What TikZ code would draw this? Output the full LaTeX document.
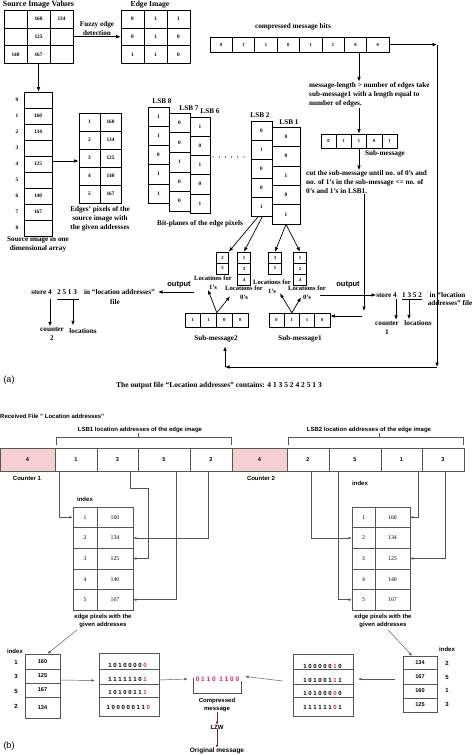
\documentclass[tikz,border=0pt]{standalone}
\usepackage{fontspec}
\setmainfont{Liberation Serif}
\setsansfont{Liberation Sans}
\usetikzlibrary{arrows.meta}
\definecolor{pinkc}{RGB}{246,208,208}
\definecolor{redd}{RGB}{226,32,84}
\definecolor{lineg}{RGB}{85,85,85}
\definecolor{darr}{RGB}{120,30,40}
\newcommand\fA{\fontsize{7.2}{9}\selectfont\bfseries}
\newcommand\fAL{\fontsize{6.6}{8.6}\selectfont\bfseries}
\newcommand\fAc{\fontsize{5.3}{6}\selectfont\bfseries}
\newcommand\fAs{\fontsize{4.6}{5}\selectfont\bfseries}
\newcommand\fB{\fontsize{6}{7.6}\selectfont\sffamily\bfseries}
\newcommand\fBs{\fontsize{5.6}{6}\selectfont\sffamily\bfseries}
\newcommand\fBr{\fontsize{5.8}{6.5}\selectfont}
\newcommand\rd[1]{\textcolor{redd}{#1}}
\begin{document}
\begin{tikzpicture}[x=1pt,y=-1pt,
 acell/.style={draw, line width=0.6pt, fill=white, inner sep=0pt, font=\fAc},
 txt/.style={inner sep=0pt, align=center, font=\fA},
 arr/.style={-{Latex[length=4.5pt,width=3.6pt]}, line width=0.7pt},
 bcell/.style={draw=lineg, line width=0.5pt, inner sep=0pt, font=\fBs},
 btxt/.style={inner sep=0pt, align=center, font=\fB},
 arrb/.style={-{Latex[length=3.2pt,width=2.6pt]}, line width=0.45pt, draw=lineg},
 arrr/.style={-{Latex[length=3pt,width=2.6pt]}, line width=0.6pt, draw=darr},
]
\fill[white] (0,0) rectangle (474,755);
\useasboundingbox (0,0) rectangle (474,755);

% ================= PART (a) =================
\node[txt, font=\fontsize{8}{9}\selectfont\bfseries] (srcT) at (38.5,5) {Source Image Values};
\node[txt, font=\fontsize{7.6}{9}\selectfont\bfseries] (edgT) at (150,5) {Edge Image};
\foreach \v [count=\i from 0] in {{},160,134,{},125,{},140,167,{}} {
  \node[acell, minimum width=23pt, minimum height=17.7pt] (src-\i) at ({15.5+23*mod(\i,3)},{19+17.7*floor(\i/3)}) {\v};
}
\foreach \v [count=\i from 0] in {0,1,1,0,1,0,1,1,0} {
  \node[acell, minimum width=23pt, minimum height=17.7pt] (edg-\i) at ({132.5+23*mod(\i,3)},{19+17.7*floor(\i/3)}) {\v};
}
\node[txt] (fuzzy) at (97,29) {Fuzzy edge\\detection};
\draw[arr] (src-5.east) -- (edg-3.west);

% one dimensional array
\foreach \v [count=\i from 0] in {{},160,134,{},125,{},140,167,{}} {
  \node[acell, minimum width=28pt, minimum height=16pt] (arr-\i) at (38,{100+16*\i}) {\v};
  \node[txt, font=\fAc] (idx-\i) at (17,{100+16*\i}) {\i};
}
\draw[arr] (src-7.south) -- (src-7.south |- arr-0.north);
\node[txt] (arrCap) at (38,244.5) {Source image in one\\dimensional array};

% edges table
\foreach \a/\b [count=\i] in {1/160,2/134,3/125,4/140,5/167} {
  \node[acell, minimum width=21pt, minimum height=18pt] (el-\i) at (89.5,{104+18*\i}) {\a};
  \node[acell, minimum width=21pt, minimum height=18pt] (ev-\i) at (110.5,{104+18*\i}) {\b};
}
\draw[arr] ([yshift=3]arr-4.east) -- ([yshift=3]arr-4.east -| el-3.west);
\node[txt] (eCap) at (100,219) {Edges' pixels of the\\source image with\\the given addresses};

% bit planes
\foreach \v [count=\i] in {1,1,0,1,1}
  \node[acell, minimum width=21pt, minimum height=19.2pt] (l8-\i) at (158.5,{97.4+19.2*\i}) {\v};
\foreach \v [count=\i] in {0,0,1,0,0}
  \node[acell, minimum width=21pt, minimum height=19.6pt] (l7-\i) at (179.5,{103.2+19.6*\i}) {\v};
\foreach \v [count=\i] in {1,0,1,0,1}
  \node[acell, minimum width=20pt, minimum height=19.2pt] (l6-\i) at (200,{107.4+19.2*\i}) {\v};
\foreach \v [count=\i] in {0,1,0,0,1}
  \node[acell, minimum width=21pt, minimum height=19pt] (l2-\i) at (261.5,{111.5+19*\i}) {\v};
\foreach \v [count=\i] in {0,0,1,0,1}
  \node[acell, minimum width=28pt, minimum height=19.4pt] (l1-\i) at (286,{117.3+19.4*\i}) {\v};
\node[txt] (lsb8) at (162,101) {LSB 8};
\node[txt] (lsb7) at (189,108) {LSB 7};
\node[txt] (lsb6) at (210,111) {LSB 6};
\node[txt] (lsb2) at (260,115) {LSB 2};
\node[txt] (lsb1) at (289,122.5) {LSB 1};
\coordinate (dotsL) at (213,157);
\coordinate (dotsR) at (250,157);
\draw[line width=1.3pt, dash pattern=on 0pt off 6.2pt, line cap=round] (dotsL) -- (dotsR);
\node[txt] (bpCap) at (200,224) {Bit-planes of the edge pixels};

% compressed bits
\node[txt] (cmpT) at (293,27) {compressed message bits};
\foreach \v [count=\i] in {0,1,1,0,1,1,0,0}
  \node[acell, font=\fAs, minimum width=22.375pt, minimum height=15pt] (cb-\i) at ({210+22.375*(\i-0.5)},44.5) {\v};
\foreach \v [count=\i] in {0,1,1,0,1}
  \node[acell, font=\fAs, minimum width=15.2pt, minimum height=14pt] (sub-\i) at ({321+15.2*(\i-0.5)},141) {\v};
\node[txt, anchor=west, align=left] (msg1) at (309,95) {message-length > number of edges take\\sub-message1 with a length equal to\\number of edges.};
\draw[arr] (cb-7.south -| sub-3) -- ([yshift=1]msg1.north -| sub-3);
\draw[arr] (msg1.south -| sub-3) -- (sub-3.north);
\node[txt] (subL) at (385,154) {Sub-message};
\node[txt, anchor=west, align=left] (cut) at (306,182) {cut the sub-message until no. of 0's and\\no. of 1's in the sub-message <= no. of\\0's and 1's in LSB1.};
\draw[arr] (sub-3.south) -- (cut.north -| sub-3);

% sub-messages
\foreach \v [count=\i] in {0,1,1,0}
  \node[acell, font=\fAs, minimum width=15.25pt, minimum height=14pt] (sm1-\i) at ({269+15.25*(\i-0.5)},320) {\v};
\foreach \v [count=\i] in {1,1,0,0}
  \node[acell, font=\fAs, minimum width=15.75pt, minimum height=14pt] (sm2-\i) at ({185+15.75*(\i-0.5)},320) {\v};
\node[txt] (sm1L) at (300,339) {Sub-message1};
\node[txt] (sm2L) at (216,339) {Sub-message2};
\coordinate (cutV) at (364,311);
\coordinate (cutH) at (362,316);
\draw[arr] (cut.south -| cutV) -- (cutV);
\draw[arr] (cutH) -- (cutH -| sm1-4.east);

% big loop
\coordinate (TR) at (437,44.5);
\coordinate (BR) at (437,367);
\coordinate (BL) at (225,367);
\draw[arr] (cb-8.east) -- (TR);
\draw[arr] (TR) -- (BR);
\draw[arr] (BR) -- (BL);
\draw[arr] (BL) -- ([yshift=-4]BL |- sm2L.south);

% small location boxes
\foreach \v [count=\i] in {2,5}
  \node[acell, font=\fAs, minimum width=12pt, minimum height=11pt] (a1-\i) at (222.5,{246.5+11*\i}) {\v};
\foreach \v [count=\i] in {1,3,4}
  \node[acell, font=\fAs, minimum width=13pt, minimum height=11pt] (a0-\i) at (244,{246.5+11*\i}) {\v};
\foreach \v [count=\i] in {3,5}
  \node[acell, font=\fAs, minimum width=13pt, minimum height=11pt] (b1-\i) at (275,{246.5+11*\i}) {\v};
\foreach \v [count=\i] in {1,2,4}
  \node[acell, font=\fAs, minimum width=13pt, minimum height=11pt] (b0-\i) at (300,{246.5+11*\i}) {\v};
\draw[arr] ([xshift=-3]l2-5.south) -- (a1-1.north east);
\draw[arr] ([xshift=1]l2-5.south) -- (a0-1.north);
\draw[arr] (l1-5.south) -- (b1-1.north);
\draw[arr] (l1-5.south) -- (b0-1.north);
\node[txt, font=\fAL] (L1a) at (213,283) {Locations for\\1's};
\node[txt, font=\fAL] (L0a) at (244,292.5) {Locations for\\0's};
\node[txt, font=\fAL] (L1b) at (272,286.5) {Locations for\\1's};
\node[txt, font=\fAL] (L0b) at (307,292.5) {Locations for\\0's};
\draw[arr] (sm2-2.north east) -- ([xshift=-5]L1a.south);
\draw[arr] (sm2-2.north east) -- ([xshift=-14,yshift=3]L0a.south);
\draw[arr] (sm1-2.north) -- ([xshift=8]L1b.south);
\draw[arr] (sm1-2.north) -- ([xshift=-6,yshift=2]L0b.south);

% output / store left
\node[txt, font=\fontsize{7.5}{9}\selectfont\sffamily\bfseries] (outL) at (179,285) {output};
\node[txt] (st4L) at (41.5,292) {store 4};
\node[txt] (locL) at (67,292) {2 5 1 3};
\node[txt] (inL) at (119.5,292) {in ``location addresses''};
\node[txt] (fileL) at (115,302) {file};
\draw[arr] (L1a.west |- inL.east) -- ([xshift=3]inL.east);
\coordinate (brL1) at (57,299);
\coordinate (brL2) at (79,299);
\coordinate (brL3) at (73,299);
\coordinate (st4Ld) at (50,299);
\draw[line width=0.7pt] (brL1) -- (brL2);
\node[txt] (cntL) at (52,334) {counter\\2};
\node[txt] (locsL) at (83,331) {locations};
\draw[arr] (st4Ld) -- ([yshift=1]st4Ld |- cntL.north);
\draw[arr] (brL3) -- ([yshift=3]brL3 |- locsL.north);

% output / store right
\node[txt, font=\fontsize{7.5}{9}\selectfont\sffamily\bfseries] (outR) at (348,285) {output};
\node[txt] (st4R) at (386.5,295) {store 4};
\node[txt] (locR) at (412,295) {1 3 5 2};
\node[txt] (inR) at (447.5,295) {in ``location};
\node[txt] (adR) at (450,303) {addresses'' file};
\draw[arr] ([xshift=-6]L0b.east |- st4R.west) -- (st4R.west);
\coordinate (brR1) at (402,299);
\coordinate (brR2) at (422,299);
\coordinate (brR3) at (409,299);
\coordinate (st4Rd) at (396,299);
\draw[line width=0.7pt] (brR1) -- (brR2);
\node[txt] (cntR) at (387,327.5) {counter\\1};
\node[txt] (locsR) at (418,323) {locations};
\draw[arr] (st4Rd) -- ([yshift=1]st4Rd |- cntR.north);
\draw[arr] (brR3) -- ([yshift=1]brR3 |- locsR.north);

\node[inner sep=0pt, font=\fontsize{9}{10}\selectfont\sffamily] (lblA) at (9,380) {(a)};
\node[txt, font=\fontsize{7.5}{9}\selectfont\bfseries] (outF) at (219,386) {The output file ``Location addresses'' contains: 4 1 3 5 2 4 2 5 1 3};

% ================= PART (b) =================
\node[btxt, anchor=west] (recv) at (0,416) {Received File " Location addresses"};
\node[btxt] (b1L) at (140,430) {LSB1 location addresses of the edge image};
\node[btxt] (b2L) at (369,430) {LSB2 location addresses of the edge image};
\draw[lineg, line width=0.5pt] (56,445) -- (56,437) -- (231,437) -- (231,445);
\draw[lineg, line width=0.5pt] (138,437) -- (138,432.5);
\draw[lineg, line width=0.5pt] (288,445) -- (288,437) -- (463,437) -- (463,445);
\draw[lineg, line width=0.5pt] (379,437) -- (379,432.5);

\node[bcell, fill=pinkc, minimum width=55pt, minimum height=23pt] (p1) at (27.5,459.5) {4};
\node[bcell, minimum width=42pt, minimum height=23pt] (c1) at (76,459.5) {1};
\node[bcell, minimum width=41pt, minimum height=23pt] (c2) at (117.5,459.5) {3};
\node[bcell, minimum width=52pt, minimum height=23pt] (c3) at (164,459.5) {5};
\node[bcell, minimum width=42pt, minimum height=23pt] (c4) at (211,459.5) {2};
\node[bcell, fill=pinkc, minimum width=55pt, minimum height=23pt] (p2) at (259.5,459.5) {4};
\node[bcell, minimum width=42pt, minimum height=23pt] (d1) at (308,459.5) {2};
\node[bcell, minimum width=52pt, minimum height=23pt] (d2) at (355,459.5) {5};
\node[bcell, minimum width=41pt, minimum height=23pt] (d3) at (401.5,459.5) {1};
\node[bcell, minimum width=42pt, minimum height=23pt] (d4) at (443,459.5) {3};
\node[btxt] (cnt1) at (27,478) {Counter 1};
\node[btxt] (cnt2) at (261,478) {Counter 2};
\node[btxt] (ixL) at (85,499) {index};
\node[btxt] (ixR) at (360,483) {index};

\foreach \a/\b [count=\i] in {1/160,2/134,3/125,4/140,5/167} {
  \node[bcell, font=\fBr, minimum width=24pt, minimum height=20.6pt] (lti-\i) at (85,{496.7+20.6*\i}) {\a};
  \node[bcell, font=\fBr, minimum width=36pt, minimum height=20.6pt] (ltv-\i) at (115,{496.7+20.6*\i}) {\b};
  \node[bcell, font=\fBr, minimum width=23pt, minimum height=20.6pt] (rti-\i) at (363.5,{496.7+20.6*\i}) {\a};
  \node[bcell, font=\fBr, minimum width=35pt, minimum height=20.6pt] (rtv-\i) at (392.5,{496.7+20.6*\i}) {\b};
}
\draw[arrb] ([xshift=-17]c1.south) |- (lti-1.west);
\draw[arrb] ([xshift=12.5]c2.south) |- (148,488) |- (ltv-3.east);
\draw[arrb] ([xshift=12]c3.south) |- (ltv-5.east);
\draw[arrb] ([xshift=-3]c4.south) |- (ltv-2.east);
\draw[arrb] ([xshift=3]d1.south) |- (rti-2.west);
\draw[arrb] ([xshift=-17]d2.south) |- (rti-5.west);
\draw[arrb] ([xshift=16.5]d3.south) |- (rtv-1.east);
\draw[arrb] ([xshift=2]d4.south) |- (rtv-3.east);
\node[btxt] (capL) at (103,621) {edge pixels with the\\given addresses};
\node[btxt] (capR) at (383,621) {edge pixels with the\\given addresses};

% bottom-left small table
\node[btxt] (ixB) at (15,651) {index};
\node[bcell, minimum width=35pt, minimum height=15pt] (blt-1) at (42.5,661.5) {160};
\node[bcell, minimum width=35pt, minimum height=14pt] (blt-2) at (42.5,676) {125};
\node[bcell, minimum width=35pt, minimum height=14pt] (blt-3) at (42.5,690) {167};
\node[bcell, minimum width=35pt, minimum height=21pt] (blt-4) at (42.5,707.5) {134};
\node[btxt] (bi-1) at (16,662) {1};
\node[btxt] (bi-2) at (16,676) {3};
\node[btxt] (bi-3) at (16,691) {5};
\node[btxt] (bi-4) at (16,706) {2};
\draw[arrb] ([xshift=-26,yshift=-2]capL.south) -- ([xshift=5]blt-1.north);

% bottom middle-left table
\node[bcell, minimum width=60pt, minimum height=16pt] (bmt-1) at (129,661) {};
\node[bcell, minimum width=60pt, minimum height=15pt] (bmt-2) at (129,676.5) {};
\node[bcell, minimum width=60pt, minimum height=13pt] (bmt-3) at (129,690.5) {};
\node[bcell, minimum width=60pt, minimum height=19pt] (bmt-4) at (129,706.5) {};
\node[btxt] (bmtt-1) at (127.5,665.5) {1 0 1 0 0 0 0 \rd{0}};
\node[btxt] (bmtt-2) at (127.5,679.5) {1 1 1 1 1 1 0 \rd{1}};
\node[btxt] (bmtt-3) at (127.5,692.5) {1 0 1 0 0 1 1 \rd{1}};
\node[btxt] (bmtt-4) at (128.3,707) {1 0 0 0 0 0 1 1 \rd{0}};
\draw[arrb] ([yshift=-4]blt-2.east) -- ([xshift=-4,yshift=-4]bmt-2.west);

% compressed message
\node[btxt, text=redd, font=\fontsize{6.5}{7}\selectfont\sffamily\bfseries] (cmp) at (217.5,679) {0 1 1 0 \ 1 1 0 0};
\draw[lineg, line width=0.5pt] (193,678) -- (193,693) -- (241,693) -- (241,681);
\draw[arrb] ([yshift=-3.5]bmt-2.east) -- ([xshift=-8]cmp.west);
\node[btxt] (cmpL) at (217,705) {Compressed\\message};
\node[btxt] (lzw) at (217,727) {LZW};
\node[btxt, font=\fontsize{6.5}{7.5}\selectfont\sffamily\bfseries] (orig) at (217,751) {Original message};
\draw[arrr] (cmpL.south) -- (lzw.north);
\draw[arrr] (lzw.south) -- (orig.north);

% bottom middle-right table
\node[bcell, minimum width=60pt, minimum height=15pt] (bmr-1) at (323,661.5) {};
\node[bcell, minimum width=60pt, minimum height=15pt] (bmr-2) at (323,676.5) {};
\node[bcell, minimum width=60pt, minimum height=13pt] (bmr-3) at (323,690.5) {};
\node[bcell, minimum width=60pt, minimum height=19pt] (bmr-4) at (323,706.5) {};
\node[btxt] (bmrt-1) at (322.5,666) {1 0 0 0 0 0 \rd{1} 0};
\node[btxt] (bmrt-2) at (322.5,680) {1 0 1 0 0 1 \rd{1} 1};
\node[btxt] (bmrt-3) at (322.5,693) {1 0 1 0 0 0 \rd{0} 0};
\node[btxt] (bmrt-4) at (322.5,707) {1 1 1 1 1 1 \rd{0} 1};
\draw[arrb] ([xshift=-10,yshift=-4.5]bmr-2.west) -- ([xshift=6]cmp.east |- bmr-2.west) ;

% bottom right small table
\node[bcell, minimum width=34pt, minimum height=13pt] (brt-1) at (420,662.5) {134};
\node[bcell, minimum width=34pt, minimum height=15pt] (brt-2) at (420,676.5) {167};
\node[bcell, minimum width=34pt, minimum height=14pt] (brt-3) at (420,691) {160};
\node[bcell, minimum width=34pt, minimum height=14pt] (brt-4) at (420,705) {125};
\node[btxt] (ixB2) at (447,649) {index};
\node[btxt] (bj-1) at (447,663) {2};
\node[btxt] (bj-2) at (447,677) {5};
\node[btxt] (bj-3) at (447,690) {1};
\node[btxt] (bj-4) at (447,704) {3};
\draw[arrb] ([xshift=-8,yshift=-2.5]brt-2.west) -- ([xshift=5,yshift=-2.5]bmr-2.east);
\draw[arrb] ([xshift=5,yshift=-2]capR.south) -- ([xshift=-8]brt-1.north);

\node[inner sep=0pt, font=\fontsize{9}{10}\selectfont\sffamily] (lblB) at (9,746) {(b)};
\end{tikzpicture}
\end{document}
